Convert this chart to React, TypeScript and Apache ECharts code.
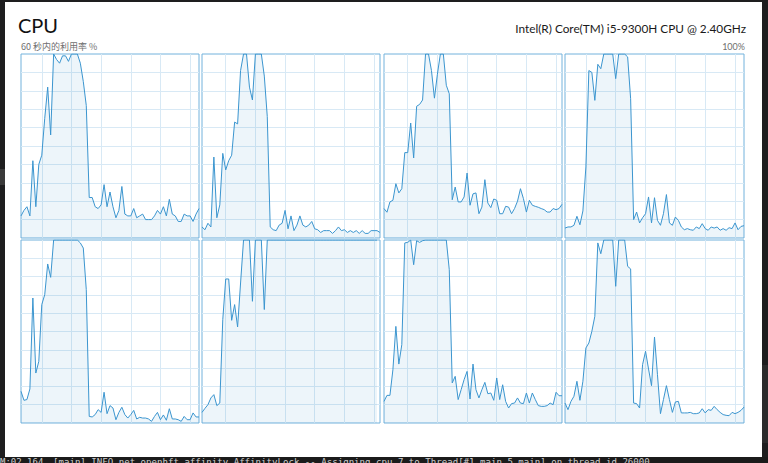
import React, { useEffect, useRef } from "react";
import * as echarts from "echarts";

// 60-second window, one sample per second (61 samples, oldest first)
const timeLabels = [
  "60","59","58","57","56","55","54","53","52","51","50","49","48","47","46","45","44","43","42","41",
  "40","39","38","37","36","35","34","33","32","31","30","29","28","27","26","25","24","23","22","21",
  "20","19","18","17","16","15","14","13","12","11","10","9","8","7","6","5","4","3","2","1","0",
];

// Per logical processor utilisation (%)
const cpu0 = [12, 15, 17, 12, 42, 17, 40, 45, 65, 82, 56, 100, 97, 95, 99, 99, 96, 100, 100, 100, 95, 85, 72, 22, 22, 17, 16, 18, 29, 17, 25, 17, 11, 15, 28, 13, 12, 12, 16, 11, 12, 13, 10, 10, 10, 12, 15, 13, 17, 12, 21, 13, 12, 9, 9, 13, 12, 12, 9, 13, 16];
const cpu1 = [6, 4.5, 8, 6, 44, 11, 18, 46, 37, 42, 45, 63, 62, 91, 100, 100, 82, 75, 100, 100, 100, 88, 66, 6, 4.5, 4, 7, 8, 15, 5, 12, 4, 7, 12, 7, 6, 7, 9, 5, 4.5, 3, 4, 4, 4, 2.5, 4, 6, 4, 4.5, 3, 4, 3, 4, 2.5, 4, 2.5, 2.5, 4, 4, 4, 3];
const cpu2 = [16, 14, 19.6, 20.5, 29.5, 24.5, 26.8, 46.4, 46.4, 62.5, 43.5, 71.6, 72.6, 75, 100, 100, 91, 76, 89, 100, 100, 83, 78.4, 20.8, 27.7, 19.6, 19.6, 22.3, 35.3, 17.8, 24, 24.5, 13.2, 16.8, 31.7, 19, 16.5, 21.2, 20.5, 13.2, 13.2, 17.2, 16.8, 13.2, 16, 20, 26.8, 21.4, 14.1, 20.5, 17.8, 17.2, 16.7, 16, 15.4, 14.1, 14.1, 16, 15.4, 16, 18.3];
const cpu3 = [5.4, 6, 6, 6.9, 11.8, 7.2, 14.7, 38.6, 91, 90, 74.8, 94.4, 92, 100, 100, 100, 100, 86.6, 100, 100, 100, 98.4, 75.7, 10, 14.1, 8.2, 11, 13.2, 22.3, 8.2, 21.9, 9.6, 6.9, 13.2, 23.6, 8.2, 6.9, 11.4, 9.6, 6, 4.5, 5.1, 4.5, 4.2, 6, 5.1, 7.8, 5.1, 4.2, 6, 5.4, 6, 4.2, 5.1, 4.2, 5.6, 5.1, 8.2, 4.5, 6.3, 6.7];
const cpu4 = [17.3, 12.4, 12.8, 18.6, 68.3, 27.3, 33.7, 64.7, 70.1, 86.9, 79.6, 100, 100, 100, 100, 100, 100, 100, 100, 100, 98.4, 95.6, 72.9, 3.6, 3.3, 4.6, 7.3, 5.8, 16.8, 5.1, 9.5, 8.2, 1.8, 5.8, 8.6, 4.6, 2.7, 4.6, 6.9, 2.2, 3.1, 2.7, 2.7, 2.2, 0.9, 3.6, 5.8, 1.8, 4.4, 1.5, 7.8, 2.2, 2.2, 1.8, 0.9, 3.6, 1.8, 1.8, 5.5, 3.3, 3.3];
const cpu5 = [5.8, 8, 10, 13.7, 15.5, 9.5, 10.9, 56.5, 78.7, 78.7, 56.1, 64.7, 52.5, 76.5, 100, 100, 100, 66.5, 100, 100, 100, 62, 100,
  100, 100, 100, 100, 100, 100, 100, 100, 100, 100, 100, 100, 100, 100, 100, 100, 100, 100, 100,
  100, 100, 100, 100, 100, 100, 100, 100, 100, 100, 100, 100, 100, 100, 100, 100, 100, 100];
const cpu6 = [11.8, 15.1, 15.1, 29.1, 52.8, 32.2, 42.8, 98.4, 98.7, 100, 86.5, 99.6, 98.7, 99.6, 100, 100, 100, 100, 100, 100, 100, 100, 83.8, 21.9, 25.5, 12.8, 18.2, 23.7, 28.2, 13.1, 32.2, 18.2, 13.7, 18.2, 22.2, 16, 16.4, 12.4, 24.6, 12.8, 20.9, 11.8, 8.2, 10.6, 10.9, 13.7, 10.9, 10.6, 16.4, 10.9, 16.4, 12.8, 9.5, 9.1, 9.1, 9.5, 10.9, 10, 16.8, 14.9, 14.9];
const cpu7 = [10.9, 7.3, 11.8, 14.6, 22.8, 12.4, 22.8, 41, 43.7, 50.1, 58.3, 98.4, 92.5, 100, 100, 100, 100, 74.7, 100, 100, 100, 85.6, 84.2, 10.9, 10.6, 8.2, 31.9, 39.2, 29.5, 20.4, 47, 26.4, 5.1, 12.8, 20.4, 12.8, 5.8, 11.5, 11.8, 5.5, 5.5, 5.5, 5.8, 5.1, 5.1, 5.5, 7.8, 5.5, 7.3, 6.9, 9.1, 7.3, 5.8, 4.6, 4.2, 4, 5.8, 5.1, 5.8, 6.9, 8.7];

const cpuSeries = [cpu0, cpu1, cpu2, cpu3, cpu4, cpu5, cpu6, cpu7];

const titleText = "CPU";
const subtitleText = "60 秒内的利用率 %";
const modelText = "Intel(R) Core(TM) i5-9300H CPU @ 2.40GHz";
const maxText = "100%";
const consoleHead = "M:02.164";
const consoleText = "[main] INFO net.openhft.affinity.AffinityLock -- Assigning cpu 7 to Thread[#1,main,5,main] on thread id 26000";

// layout
const colLeft = [21, 202, 384, 565];
const colWidth = [178, 178, 178, 179];
const rowTop = [54, 240];
const rowHeight = [184, 183];
const gridPhase = [7, 8, 8, 7];

const LINE = "#3b95cf";
const BORDER = "#72b2dc";
const GRIDLINE = "#d8e9f5";
const FILL = "rgba(17,125,187,0.075)";
const DARK = "#1e1e1f";

export default function App() {
  const ref = useRef<HTMLDivElement>(null);
  useEffect(() => {
    const chart = echarts.init(ref.current!, null, { renderer: "svg" });
    const grids: any[] = [];
    const xAxes: any[] = [];
    const yAxes: any[] = [];
    const series: any[] = [];
    cpuSeries.forEach((vals, k) => {
      const c = k % 4;
      const r = Math.floor(k / 4);
      const phase = gridPhase[c];
      grids.push({
        left: colLeft[c], top: rowTop[r], width: colWidth[c], height: rowHeight[r],
        show: true, borderColor: BORDER, borderWidth: 1, backgroundColor: "#ffffff",
        containLabel: false,
      });
      xAxes.push({
        type: "category", gridIndex: k, data: timeLabels, boundaryGap: false,
        axisLine: { show: false }, axisTick: { show: false }, axisLabel: { show: false },
        splitLine: { show: true, interval: (i: number) => i % 10 === phase, lineStyle: { color: GRIDLINE, width: 1 } },
      });
      yAxes.push({
        type: "value", gridIndex: k, min: 0, max: 100, interval: 10,
        axisLine: { show: false }, axisTick: { show: false }, axisLabel: { show: false },
        splitLine: { show: true, showMinLine: false, showMaxLine: false, lineStyle: { color: GRIDLINE, width: 1 } },
      });
      series.push({
        type: "line", xAxisIndex: k, yAxisIndex: k, data: vals, symbol: "none", showSymbol: false,
        lineStyle: { color: LINE, width: 1 }, areaStyle: { color: FILL, opacity: 1 },
        clip: true, silent: true,
      });
    });
    chart.setOption({
      animation: false,
      backgroundColor: "#ffffff",
      grid: grids,
      xAxis: xAxes,
      yAxis: yAxes,
      series,
      graphic: [
        { type: "text", x: 18, y: 25, z: 10, style: { text: titleText, font: '20px "Segoe UI", Lato, "Noto Sans", sans-serif', fill: "#111111", textVerticalAlign: "middle" } },
        { type: "text", x: 21, y: 46, z: 10, style: { text: subtitleText, font: '9px "Noto Sans CJK SC", sans-serif', fill: "#6f6f6f", textVerticalAlign: "middle" } },
        { type: "text", x: 746, y: 28, z: 10, style: { text: modelText, font: '11.8px "Segoe UI", Lato, "Noto Sans", sans-serif', fill: "#1a1a1a", textAlign: "right", textVerticalAlign: "middle" } },
        { type: "text", x: 745, y: 46.5, z: 10, style: { text: maxText, font: '9px "Segoe UI", Lato, "Noto Sans", sans-serif', fill: "#6f6f6f", textAlign: "right", textVerticalAlign: "middle" } },
        // surrounding dark desktop / console
        { type: "rect", z: 20, shape: { x: 0, y: 0, width: 768, height: 2 }, style: { fill: DARK } },
        { type: "rect", z: 20, shape: { x: 0, y: 0, width: 5, height: 463 }, style: { fill: DARK } },
        { type: "rect", z: 20, shape: { x: 762, y: 0, width: 6, height: 463 }, style: { fill: DARK } },
        { type: "rect", z: 20, shape: { x: 0, y: 457, width: 768, height: 6 }, style: { fill: "#1b1b1b" } },
        { type: "rect", z: 21, shape: { x: 0, y: 169, width: 5, height: 16 }, style: { fill: "#3a3a3a" } },
        { type: "rect", z: 21, shape: { x: 762, y: 365, width: 6, height: 78 }, style: { fill: "#2b2b2c" } },
        { type: "text", z: 22, x: 0, y: 457.5, style: { text: consoleHead, font: '9px "DejaVu Sans Mono", monospace', fill: "#cfcfcf", textVerticalAlign: "top" } },
        { type: "text", z: 22, x: 53, y: 457.5, style: { text: consoleText, font: '9.1px "DejaVu Sans Mono", monospace', fill: "#cfcfcf", textVerticalAlign: "top" } },
      ],
    });
    return () => chart.dispose();
  }, []);
  return <div ref={ref} style={{ position: "fixed", left: 0, top: 0, width: 768, height: 463 }} />;
}
